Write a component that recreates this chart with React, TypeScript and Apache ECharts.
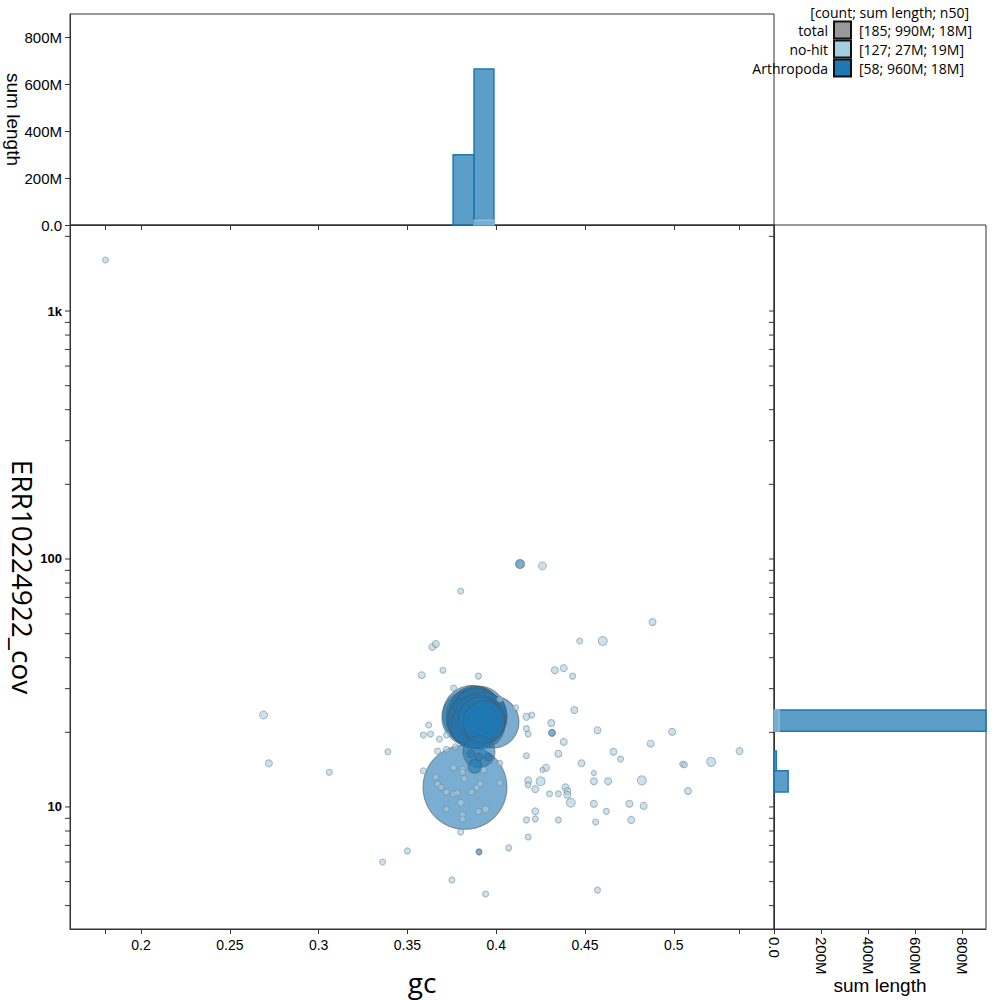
import React, { useEffect, useRef } from "react";
import * as echarts from "echarts";

// ---- axis ranges ----
const GC_MIN = 0.16;
const GC_MAX = 0.5564;
const COV_MIN = 3.22;
const COV_MAX = 2223;
const LEN_MAX = 900e6;

const gcLabelValues = [0.2, 0.25, 0.3, 0.35, 0.4, 0.45, 0.5];
const lengthTickValues = [0, 200e6, 400e6, 600e6, 800e6];
const covTickValues = [
  4, 5, 6, 7, 8, 9, 10, 20, 30, 40, 50, 60, 70, 80, 90, 100, 200, 300, 400, 500, 600, 700, 800,
  900, 1000, 2000,
];

// ---- scatter data: [gc, coverage, length (Mb)] ----
const noHitPoints = [
  [0.18, 1606, 0.28], [0.269, 23.5, 0.5], [0.272, 15.0, 0.38], [0.306, 13.8, 0.28],
  [0.336, 6.0, 0.28], [0.339, 16.7, 0.28], [0.35, 6.65, 0.28], [0.358, 34.0, 0.38],
  [0.364, 44.2, 0.38], [0.366, 45.4, 0.38], [0.37, 35.6, 0.28], [0.376, 30.2, 0.28],
  [0.38, 74.3, 0.28], [0.39, 33.7, 0.28], [0.362, 21.4, 0.28], [0.359, 19.5, 0.28],
  [0.363, 19.7, 0.28], [0.368, 18.8, 0.28], [0.372, 19.5, 0.28], [0.367, 16.8, 0.28],
  [0.372, 17.1, 0.28], [0.377, 17.5, 0.28], [0.359, 14.0, 0.28], [0.366, 13.2, 0.28],
  [0.376, 14.4, 0.28], [0.381, 14.2, 0.28], [0.381, 13.8, 0.28], [0.382, 13.0, 0.28],
  [0.367, 12.4, 0.28], [0.369, 12.0, 0.28], [0.372, 11.5, 0.28], [0.376, 11.3, 0.28],
  [0.378, 11.4, 0.28], [0.386, 11.5, 0.28], [0.389, 12.0, 0.28], [0.391, 12.4, 0.28],
  [0.402, 12.5, 0.28], [0.38, 10.4, 0.38], [0.372, 9.8, 0.28], [0.381, 9.3, 0.28],
  [0.381, 8.95, 0.28], [0.39, 9.6, 0.28], [0.394, 9.8, 0.38], [0.402, 15.0, 0.28],
  [0.393, 14.1, 0.28], [0.38, 7.93, 0.28], [0.418, 7.57, 0.28], [0.407, 6.84, 0.28],
  [0.375, 5.08, 0.28], [0.394, 4.46, 0.28], [0.457, 4.62, 0.28], [0.426, 93.8, 0.5],
  [0.433, 35.6, 0.38], [0.438, 36.3, 0.38], [0.443, 33.7, 0.28], [0.447, 46.7, 0.28],
  [0.46, 46.7, 0.63], [0.488, 55.7, 0.38], [0.402, 27.2, 0.28], [0.411, 25.1, 0.28],
  [0.444, 24.6, 0.38], [0.417, 23.1, 0.38], [0.42, 23.5, 0.28], [0.431, 21.8, 0.38],
  [0.417, 20.7, 0.28], [0.418, 19.7, 0.28], [0.438, 18.3, 0.38], [0.435, 16.4, 0.38],
  [0.417, 16.1, 0.28], [0.457, 20.4, 0.38], [0.499, 20.1, 0.38], [0.487, 18.0, 0.38],
  [0.466, 16.7, 0.38], [0.47, 15.6, 0.28], [0.448, 15.0, 0.38], [0.537, 16.8, 0.38],
  [0.521, 15.2, 0.63], [0.505, 14.9, 0.28], [0.506, 14.8, 0.28], [0.455, 13.7, 0.2],
  [0.455, 12.7, 0.38], [0.463, 12.7, 0.38], [0.482, 12.8, 0.63], [0.508, 11.6, 0.38],
  [0.428, 14.4, 0.38], [0.426, 14.1, 0.2], [0.418, 12.8, 0.38], [0.418, 12.3, 0.28],
  [0.425, 12.7, 0.63], [0.422, 11.8, 0.38], [0.43, 11.3, 0.28], [0.435, 11.3, 0.28],
  [0.439, 12.0, 0.38], [0.44, 11.6, 0.38], [0.44, 11.2, 0.38], [0.442, 10.4, 0.63],
  [0.422, 9.6, 0.38], [0.417, 8.87, 0.28], [0.422, 8.95, 0.28], [0.435, 8.87, 0.28],
  [0.455, 10.3, 0.38], [0.462, 9.6, 0.28], [0.475, 10.3, 0.38], [0.483, 10.1, 0.38],
  [0.456, 8.7, 0.28], [0.476, 8.87, 0.38],
];

const arthropodaPoints = [
  [0.3824, 12.0, 55.3],
  [0.3864, 23.5, 27.3], [0.388, 23.1, 26.3], [0.3852, 22.9, 24.6], [0.3886, 22.4, 24.6],
  [0.3897, 23.3, 22.8], [0.3903, 23.9, 22.8], [0.3982, 22.0, 21.2], [0.3875, 22.0, 21.2],
  [0.3914, 22.9, 21.2], [0.3897, 22.2, 21.2], [0.3909, 21.6, 19.6], [0.3886, 23.7, 19.6],
  [0.388, 24.4, 19.6], [0.3892, 24.2, 18.0], [0.3926, 23.3, 18.0], [0.3858, 22.4, 18.0],
  [0.392, 22.4, 16.6], [0.3892, 22.9, 16.6], [0.3869, 21.2, 15.2], [0.3909, 22.6, 15.2],
  [0.3931, 22.0, 13.8], [0.3903, 16.7, 8.0], [0.388, 14.6, 1.53], [0.4134, 95.5, 0.63],
  [0.3857, 16.4, 0.5], [0.3903, 15.9, 0.5], [0.3954, 15.9, 0.5], [0.4314, 19.9, 0.38],
  [0.3903, 6.59, 0.28],
];

// ---- histograms ----
const gcBinStart = [0.3757, 0.3875];
const gcBinEnd = [0.3875, 0.3987];
const gcArthropodaSum = [300e6, 665e6];
const gcNoHitSum = [0, 20e6];

const covBinStart = [11.5, 14.0, 20.2];
const covBinEnd = [14.0, 16.8, 24.6];
const covArthropodaSum = [60e6, 10e6, 920e6];
const covNoHitSum = [0, 0, 22e6];

const legendHeader = "[count; sum length; n50]";
const legendNames = ["total", "no-hit", "Arthropoda"];
const legendValues = ["[185; 990M; 18M]", "[127; 27M; 19M]", "[58; 960M; 18M]"];
const legendColors = ["#999999", "#a6cee3", "#1f78b4"];

const AX = "#333";
const TICK_FONT = "Liberation Sans, Arial, sans-serif";
const TITLE_FONT = "Open Sans, sans-serif";
const SIZE_K = 11.3;

const fmtLen = (v: number) => (v === 0 ? "0.0" : `${Math.round(v / 1e6)}M`);

export default function App() {
  const ref = useRef<HTMLDivElement>(null);
  useEffect(() => {
    if (!ref.current) return;
    const chart = echarts.init(ref.current, null, { renderer: "svg" });
    const allGc = [...noHitPoints, ...arthropodaPoints].map((p) => p[0]);
    const gcTickValues = [Math.min(...allGc), ...gcLabelValues, Math.max(...allGc)];

    const topHistArth = gcBinStart.map((s, i) => [s, gcBinEnd[i], gcArthropodaSum[i]]).filter((d) => d[2] > 0);
    const topHistNoHit = gcBinStart.map((s, i) => [s, gcBinEnd[i], gcNoHitSum[i]]).filter((d) => d[2] > 0);
    const rightHistArth = covBinStart.map((s, i) => [s, covBinEnd[i], covArthropodaSum[i]]).filter((d) => d[2] > 0);
    const rightHistNoHit = covBinStart.map((s, i) => [s, covBinEnd[i], covNoHitSum[i]]).filter((d) => d[2] > 0);

    const topRender = (fill: string, stroke: string) => (params: any, api: any) => {
      const a = api.coord([api.value(0), api.value(2)]);
      const b = api.coord([api.value(1), 0]);
      const cs = params.coordSys;
      const top = Math.max(a[1], cs.y);
      return {
        type: "rect",
        shape: { x: a[0], y: top, width: b[0] - a[0], height: b[1] - top },
        style: { fill, stroke, lineWidth: 1.5 },
      };
    };
    const rightRender = (fill: string, stroke: string) => (params: any, api: any) => {
      const a = api.coord([api.value(2), api.value(1)]);
      const b = api.coord([0, api.value(0)]);
      const cs = params.coordSys;
      const right = Math.min(a[0], cs.x + cs.width);
      return {
        type: "rect",
        shape: { x: b[0], y: a[1], width: right - b[0], height: b[1] - a[1] },
        style: { fill, stroke, lineWidth: 1.5 },
      };
    };
    const tickRender = (params: any, api: any) => {
      const p = api.coord([api.value(0), api.value(1)]);
      return {
        type: "line",
        shape: { x1: p[0] - 5, y1: p[1], x2: p[0], y2: p[1] },
        style: { stroke: AX, lineWidth: 1 },
      };
    };

    const legendGraphics: any[] = [
      {
        type: "text",
        right: 1000 - 969,
        top: 5,
        style: { text: legendHeader, font: `14px ${TITLE_FONT}`, fill: "#000" },
      },
    ];
    legendNames.forEach((name, i) => {
      const cy = 30 + i * 19;
      legendGraphics.push(
        {
          type: "text",
          x: 828,
          y: cy,
          style: { text: name, font: `14px ${TITLE_FONT}`, fill: "#000", align: "right", verticalAlign: "middle" },
        },
        {
          type: "rect",
          shape: { x: 834, y: cy - 8.5, width: 17, height: 17 },
          style: { fill: legendColors[i], stroke: "#111", lineWidth: 2 },
        },
        {
          type: "text",
          x: 859,
          y: cy,
          style: { text: legendValues[i], font: `14px ${TITLE_FONT}`, fill: "#000", align: "left", verticalAlign: "middle" },
        }
      );
    });

    const lineStyle = { color: AX, width: 1 };
    const gridBase = { show: true, borderColor: AX, borderWidth: 1, containLabel: false, outerBoundsMode: "none" };
    const option: any = {
      animation: false,
      backgroundColor: "#fff",
      grid: [
        { ...gridBase, left: 70, top: 225, width: 704, height: 704 },
        { ...gridBase, left: 70, top: 14, width: 704, height: 211 },
        { ...gridBase, left: 774, top: 225, width: 212, height: 704 },
      ],
      xAxis: [
        {
          gridIndex: 0,
          type: "value",
          min: GC_MIN,
          max: GC_MAX,
          axisLine: { show: true, lineStyle },
          axisTick: { show: true, length: 5, customValues: gcTickValues, lineStyle },
          axisLabel: {
            customValues: gcLabelValues,
            fontSize: 14,
            color: "#000",
            fontFamily: TICK_FONT,
            margin: 9,
            formatter: (v: number) => String(+v.toFixed(2)),
          },
          splitLine: { show: false },
          name: "gc",
          nameLocation: "middle",
          nameGap: 39,
          nameMoveOverlap: false,
          nameTextStyle: { fontSize: 28, fontFamily: TITLE_FONT, color: "#000" },
        },
        {
          gridIndex: 1,
          type: "value",
          min: GC_MIN,
          max: GC_MAX,
          axisLine: { show: true, lineStyle },
          axisTick: { show: true, length: 5, customValues: gcTickValues, lineStyle },
          axisLabel: { show: false },
          splitLine: { show: false },
        },
        {
          gridIndex: 2,
          type: "value",
          min: 0,
          max: LEN_MAX,
          axisLine: { show: true, lineStyle },
          axisTick: { show: true, length: 5, customValues: lengthTickValues, lineStyle },
          axisLabel: {
            customValues: lengthTickValues,
            rotate: -90,
            fontSize: 15,
            color: "#000",
            fontFamily: TICK_FONT,
            margin: 8,
            formatter: fmtLen,
          },
          splitLine: { show: false },
          name: "sum length",
          nameLocation: "middle",
          nameGap: 47,
          nameMoveOverlap: false,
          nameTextStyle: { fontSize: 19, fontFamily: TICK_FONT, color: "#000" },
        },
      ],
      yAxis: [
        {
          gridIndex: 0,
          type: "log",
          logBase: 10,
          min: COV_MIN,
          max: COV_MAX,
          axisLine: { show: true, lineStyle },
          axisTick: { show: false },
          minorTick: { show: false },
          axisLabel: {
            fontSize: 13,
            fontWeight: "bold",
            color: "#000",
            fontFamily: TICK_FONT,
            margin: 8,
            formatter: (v: number) => {
              const l = Math.log10(v);
              if (Math.abs(l - Math.round(l)) > 0.01) return "";
              const r = Math.round(v);
              return r >= 1000 ? `${Math.round(r / 1000)}k` : String(r);
            },
          },
          splitLine: { show: false },
          name: "ERR10224922_cov",
          nameLocation: "middle",
          nameRotate: -90,
          nameGap: 33,
          nameMoveOverlap: false,
          nameTextStyle: { fontSize: 28, fontFamily: TITLE_FONT, color: "#000" },
        },
        {
          gridIndex: 1,
          type: "value",
          min: 0,
          max: LEN_MAX,
          axisLine: { show: true, lineStyle },
          axisTick: { show: true, length: 5, customValues: lengthTickValues, lineStyle },
          axisLabel: {
            customValues: lengthTickValues,
            fontSize: 15,
            color: "#000",
            fontFamily: TICK_FONT,
            margin: 8,
            formatter: fmtLen,
          },
          splitLine: { show: false },
          name: "sum length",
          nameLocation: "middle",
          nameRotate: -90,
          nameGap: 47,
          nameMoveOverlap: false,
          nameTextStyle: { fontSize: 19, fontFamily: TICK_FONT, color: "#000" },
        },
        {
          gridIndex: 2,
          type: "log",
          logBase: 10,
          min: COV_MIN,
          max: COV_MAX,
          axisLine: { show: true, lineStyle },
          axisTick: { show: false },
          axisLabel: { show: false },
          splitLine: { show: false },
        },
      ],
      series: [
        {
          type: "scatter",
          xAxisIndex: 0,
          yAxisIndex: 0,
          data: arthropodaPoints,
          symbolSize: (v: number[]) => SIZE_K * Math.sqrt(v[2]),
          itemStyle: { color: "#1f78b4", opacity: 0.6, borderColor: "#555", borderWidth: 1 },
          emphasis: { disabled: true },
          silent: true,
        },
        {
          type: "scatter",
          xAxisIndex: 0,
          yAxisIndex: 0,
          data: noHitPoints,
          symbolSize: (v: number[]) => SIZE_K * Math.sqrt(v[2]),
          itemStyle: { color: "#a6cee3", opacity: 0.6, borderColor: "#7a8a99", borderWidth: 1 },
          emphasis: { disabled: true },
          silent: true,
        },
        {
          type: "custom",
          xAxisIndex: 1,
          yAxisIndex: 1,
          data: topHistArth,
          encode: { x: [0, 1], y: 2 },
          renderItem: topRender("rgba(31,120,180,0.72)", "#1f78b4"),
          silent: true,
        },
        {
          type: "custom",
          xAxisIndex: 1,
          yAxisIndex: 1,
          data: topHistNoHit,
          encode: { x: [0, 1], y: 2 },
          renderItem: topRender("rgba(166,206,227,0.35)", "rgba(166,206,227,0.6)"),
          silent: true,
        },
        {
          type: "custom",
          xAxisIndex: 2,
          yAxisIndex: 2,
          data: rightHistArth,
          encode: { x: 2, y: [0, 1] },
          renderItem: rightRender("rgba(31,120,180,0.72)", "#1f78b4"),
          silent: true,
        },
        {
          type: "custom",
          xAxisIndex: 2,
          yAxisIndex: 2,
          data: rightHistNoHit,
          encode: { x: 2, y: [0, 1] },
          renderItem: rightRender("rgba(166,206,227,0.35)", "rgba(166,206,227,0.6)"),
          silent: true,
        },
        {
          type: "custom",
          xAxisIndex: 0,
          yAxisIndex: 0,
          clip: false,
          data: covTickValues.map((v) => [GC_MIN, v]),
          renderItem: tickRender,
          silent: true,
        },
        {
          type: "custom",
          xAxisIndex: 2,
          yAxisIndex: 2,
          clip: false,
          data: covTickValues.map((v) => [0, v]),
          renderItem: tickRender,
          silent: true,
        },
      ],
      graphic: legendGraphics,
    };
    chart.setOption(option);
    return () => chart.dispose();
  }, []);
  return (
    <div
      ref={ref}
      style={{ position: "absolute", left: 0, top: 0, width: 1000, height: 1000, background: "#fff" }}
    />
  );
}
